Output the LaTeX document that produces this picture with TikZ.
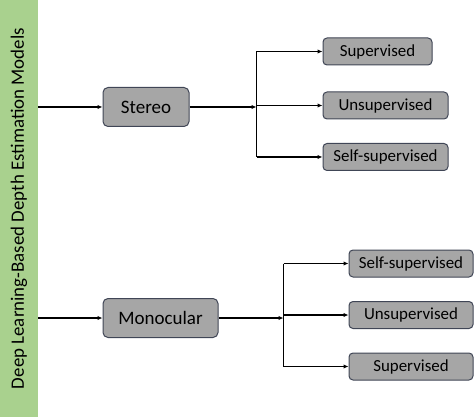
\documentclass[tikz,border=0pt]{standalone}
\usepackage{fontspec}
\setmainfont{Carlito}
\definecolor{bargreen}{HTML}{A9D18E}
\definecolor{boxgray}{HTML}{A6A6A6}
\definecolor{boxedge}{HTML}{404656}
\usetikzlibrary{positioning,arrows.meta}

\begin{document}
\begin{tikzpicture}[
      x=1pt, y=-1pt,
      bar/.style={rectangle, fill=bargreen, minimum width=38pt, minimum height=417pt,
                  inner sep=0pt, font=\fontsize{18.9}{20}\selectfont},
      cat/.style={rectangle, draw=boxedge, line width=1pt, rounded corners=5pt,
                  fill=boxgray, minimum height=39pt, inner sep=0pt, font=\fontsize{19}{20}\selectfont},
      sub/.style={rectangle, draw=boxedge, line width=1pt, rounded corners=4pt,
                  fill=boxgray, minimum height=27pt, inner sep=0pt, font=\fontsize{16.9}{18}\selectfont},
      link/.style={-{Latex[length=5pt,width=4.5pt]}, line width=1.1pt, black},
    ]
    \useasboundingbox (0,0) rectangle (474,417);
    \node[bar] (bar) at (19,208.5) {\rotatebox{90}{Deep Learning-Based Depth Estimation Models}};

    % stereo branch
    \node[cat, minimum width=86pt] (st) at (146,107) {Stereo};
    \node[sub, minimum width=109pt] (st1) at (377.5,51.5) {Supervised};
    \node[sub, minimum width=125pt] (st2) at (385.5,105.5) {Unsupervised};
    \node[sub, minimum width=125pt] (st3) at (385.5,157) {Self-supervised};
    \coordinate (stj) at (256.5,107);

    % monocular branch
    \node[cat, minimum width=115pt] (mo) at (160.5,318) {Monocular};
    \node[sub, minimum width=124pt] (mo1) at (411,263.5) {Self-supervised};
    \node[sub, minimum width=124pt] (mo2) at (411,315) {Unsupervised};
    \node[sub, minimum width=124pt] (mo3) at (411,366.5) {Supervised};
    \coordinate (moj) at (283.5,318);

    \draw[link] (bar.east |- st) -- (st);
    \draw[link] (bar.east |- mo) -- (mo);
    \draw[link] (st) -- (stj);
    \draw[link] (mo) -- (moj);
    \draw[line width=1.1pt] (stj |- st1) -- (stj |- st3);
    \draw[line width=1.1pt] (moj |- mo1) -- (moj |- mo3);
    \draw[link] (stj |- st1) -- (st1);
    \draw[link] (stj |- st2) -- (st2);
    \draw[link] (stj |- st3) -- (st3);
    \draw[link] (moj |- mo1) -- (mo1);
    \draw[link] (moj |- mo2) -- (mo2);
    \draw[link] (moj |- mo3) -- (mo3);
  \end{tikzpicture}
\end{document}
